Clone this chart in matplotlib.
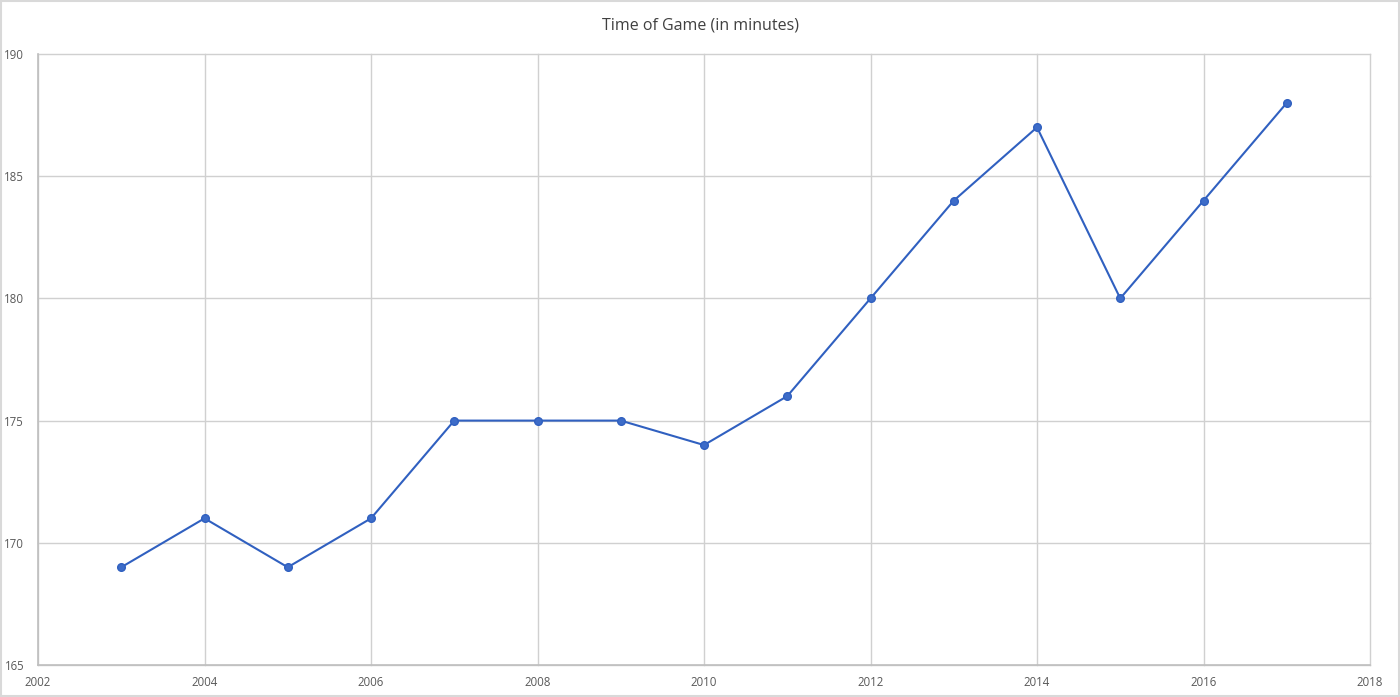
import matplotlib.pyplot as plt
from matplotlib.patches import Rectangle

years = [2003, 2004, 2005, 2006, 2007, 2008, 2009, 2010,
         2011, 2012, 2013, 2014, 2015, 2016, 2017]
minutes = [169, 171, 169, 171, 175, 175, 175, 174,
           176, 180, 184, 187, 180, 184, 188]

plt.rcParams['font.family'] = ['Open Sans', 'DejaVu Sans']

fig = plt.figure(figsize=(14, 6.97), dpi=100)
ax = fig.add_axes([38 / 1400, 32 / 697, 1332 / 1400, 611 / 697])

ax.plot(years, minutes, color='#3060C0', linewidth=1.5,
        marker='o', markersize=5.5, markerfacecolor='#3D6CC8',
        markeredgecolor='#3060C0', zorder=3)

ax.set_xlim(2002, 2018)
ax.set_ylim(165, 190)
ax.set_xticks(range(2002, 2019, 2))
ax.set_yticks(range(165, 191, 5))
ax.grid(True, color='#D0D0D0', linewidth=1)
ax.set_axisbelow(True)
for gl in ax.get_xgridlines() + ax.get_ygridlines():
    gl.set_clip_on(False)

for side in ['top', 'right']:
    ax.spines[side].set_visible(False)
for side in ['left', 'bottom']:
    ax.spines[side].set_color('#BFBFBF')
    ax.spines[side].set_linewidth(1.2)

ax.tick_params(length=0, labelsize=8.3, labelcolor='#595959')
ax.tick_params(axis='y', pad=10)
ax.tick_params(axis='x', pad=8)

fig.text(0.5, 1 - 25 / 697, 'Time of Game (in minutes)', ha='center',
         va='center', fontsize=11.5, color='#404040')

fig.patches.append(Rectangle((0.001, 0.001), 0.998, 0.997, transform=fig.transFigure,
                             fill=False, edgecolor='#D9D9D9', linewidth=1.5))

fig.savefig('out.png', dpi=100)
